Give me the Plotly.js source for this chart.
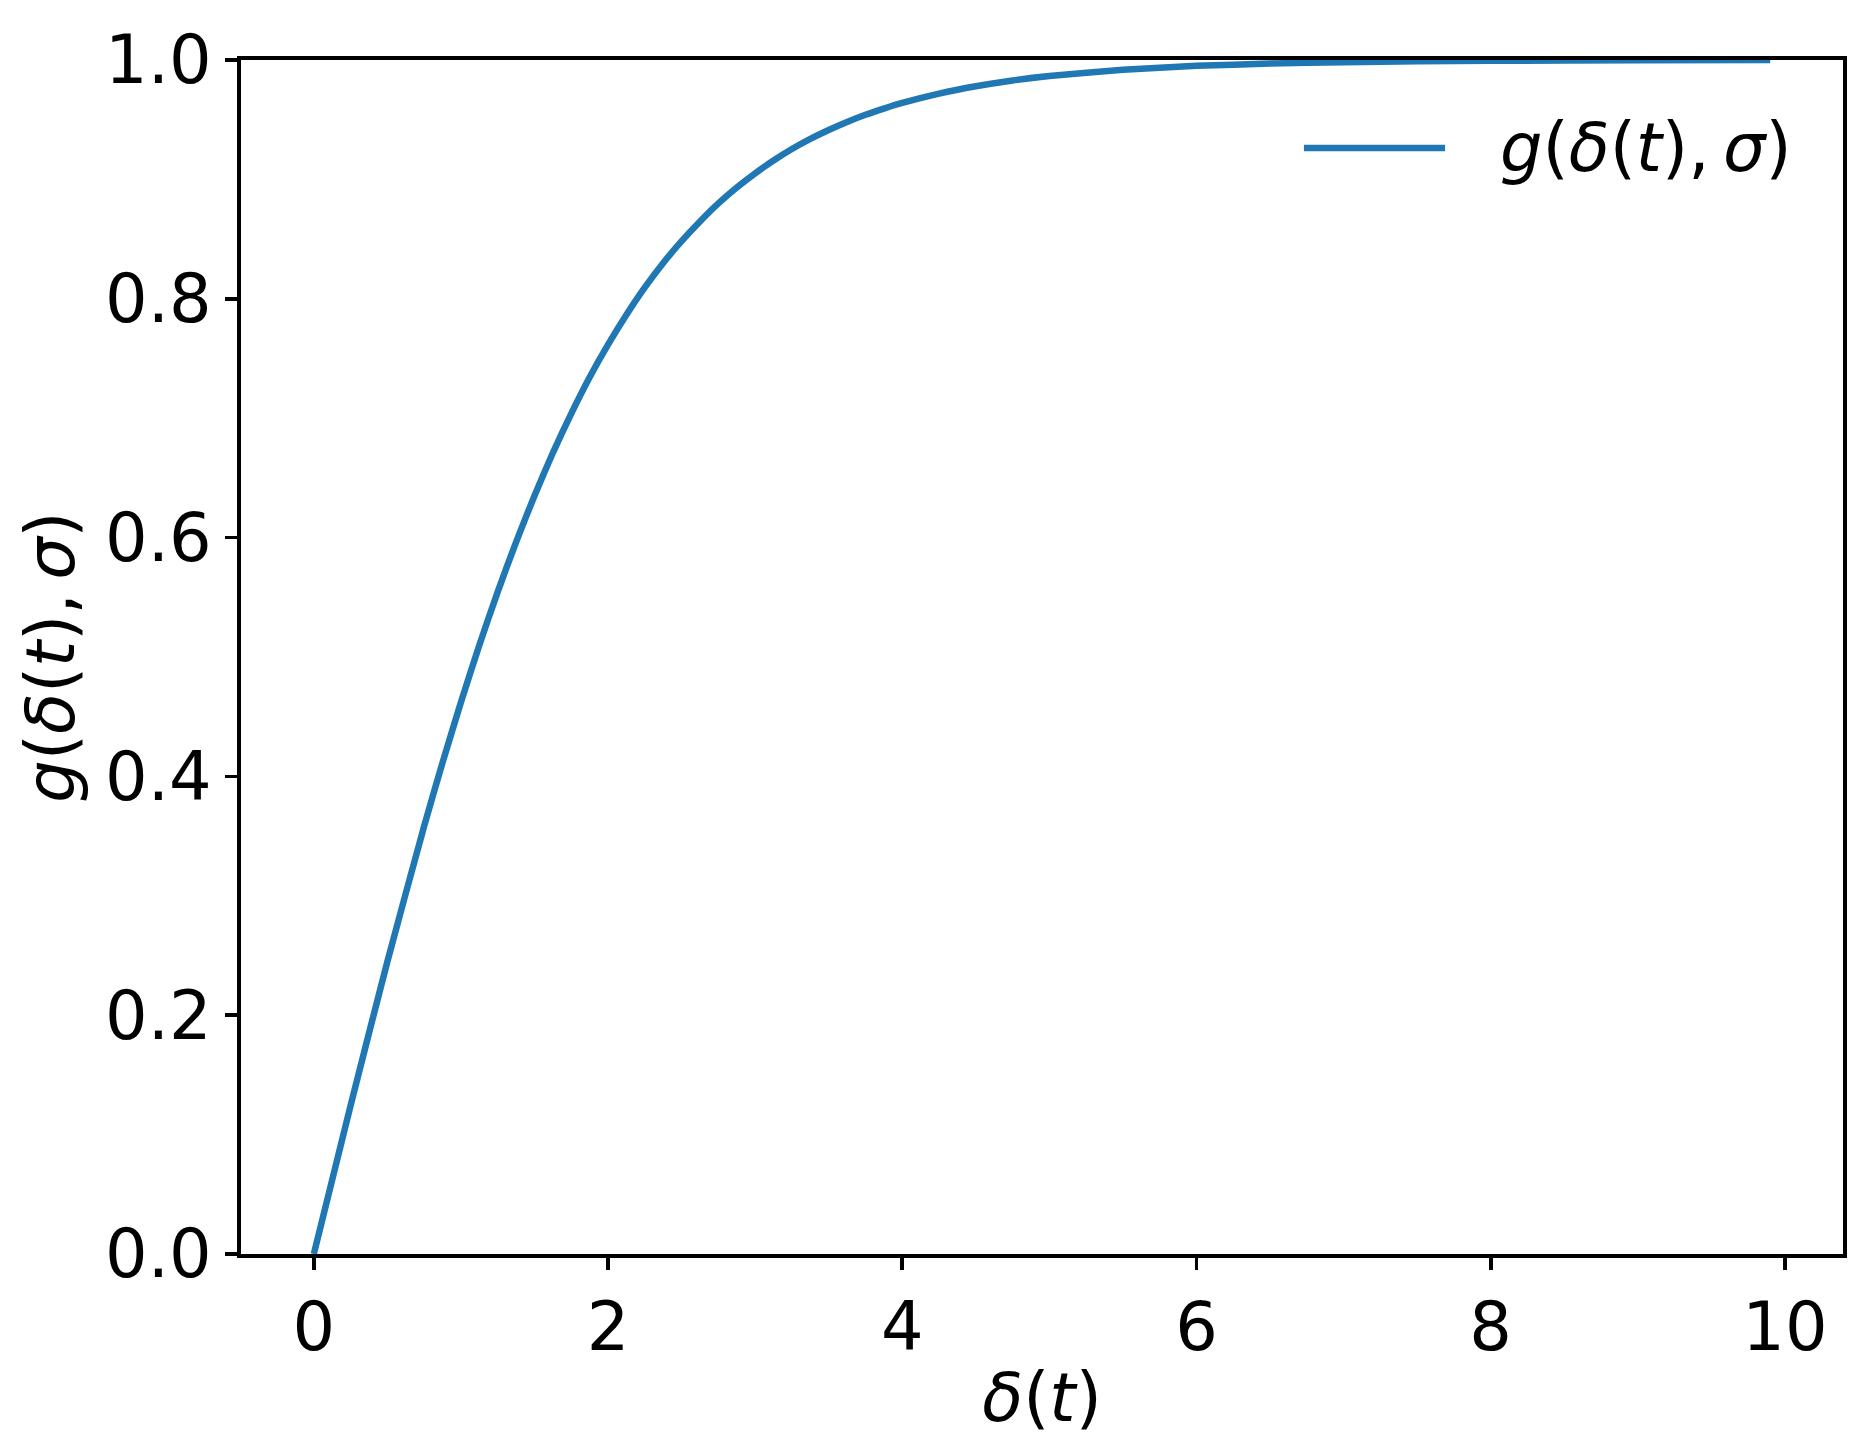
<!DOCTYPE html>
<html>
<head>
<meta charset="utf-8">
<script src="https://cdn.plot.ly/plotly-3.0.1.min.js"></script>
<style>
  html, body { margin: 0; padding: 0; background: #ffffff; }
  #chart { width: 1874px; height: 1441px; }
</style>
</head>
<body>
<div id="chart"></div>
<script>
// Values
const delta = [0, 0.25, 0.5, 0.75, 0.875, 1.0, 1.125, 1.25, 1.375, 1.5, 1.625, 1.75, 1.875, 2.0, 2.125, 2.25, 2.375, 2.5, 2.625, 2.75, 2.875, 3.0, 3.125, 3.25, 3.375, 3.5, 3.625, 3.75, 3.875, 4.0, 4.25, 4.5, 4.75, 5.0, 5.5, 6.0, 6.5, 7.0, 7.5, 8.0, 9.0, 9.9];
const gValues = [0, 0.1244, 0.2449, 0.3584, 0.4116, 0.4621, 0.5099, 0.5546, 0.5963, 0.6351, 0.6710, 0.7039, 0.7343, 0.7616, 0.7866, 0.8095, 0.8300, 0.8483, 0.8648, 0.8799, 0.8932, 0.9051, 0.9158, 0.9254, 0.9339, 0.9414, 0.9481, 0.9541, 0.9593, 0.9640, 0.9718, 0.9780, 0.9829, 0.9866, 0.9919, 0.9951, 0.9970, 0.9982, 0.9989, 0.9993, 0.9998, 0.9999];
const seriesName = '<i>g</i>(<i>δ</i>(<i>t</i>),\u2009<i>σ</i>)';
const xTitle = '<i>δ</i>(<i>t</i>)';
const yTitle = '<i>g</i>(<i>δ</i>(<i>t</i>),\u2009<i>σ</i>)';

const FONT = 'DejaVu Sans, Verdana, sans-serif';
const FS = 67;

const trace = {
  x: delta,
  y: gValues,
  type: 'scatter',
  mode: 'lines',
  name: seriesName,
  line: { color: '#1f77b4', width: 6.5, shape: 'spline', smoothing: 0.5 },
  showlegend: false
};

const layout = {
  width: 1874,
  height: 1441,
  margin: { l: 241, r: 31, t: 60, b: 187, pad: 0 },
  paper_bgcolor: '#ffffff',
  plot_bgcolor: '#ffffff',
  font: { family: FONT, size: FS, color: '#000000' },
  xaxis: {
    range: [-0.495, 10.395],
    tickmode: 'linear', tick0: 0, dtick: 2,
    ticks: 'outside', ticklen: 12, tickwidth: 3.7, tickcolor: '#000',
    showline: true, linecolor: '#000', linewidth: 4, mirror: true,
    showgrid: false, zeroline: false, tickangle: 0,
    tickfont: { family: FONT, size: FS, color: '#000' },
    title: { text: xTitle, font: { family: FONT, size: FS, color: '#000' }, standoff: 10 }
  },
  yaxis: {
    range: [0, 1],
    tickmode: 'linear', tick0: 0, dtick: 0.2, tickformat: '.1f',
    ticks: 'outside', ticklen: 12, tickwidth: 3.7, tickcolor: '#000',
    showline: true, linecolor: '#000', linewidth: 4, mirror: true,
    showgrid: false, zeroline: false,
    tickfont: { family: FONT, size: FS, color: '#000' },
    title: { text: yTitle, font: { family: FONT, size: FS, color: '#000' }, standoff: 10 }
  },
  shapes: [
    { type: 'line', xref: 'paper', yref: 'paper', x0: 0.6635, x1: 0.7516, y0: 0.9263, y1: 0.9263,
      line: { color: '#1f77b4', width: 6.5 } }
  ],
  annotations: [
    { xref: 'paper', yref: 'paper', x: 0.7846, y: 0.9263, xanchor: 'left', yanchor: 'middle',
      text: seriesName, showarrow: false, font: { family: FONT, size: FS, color: '#000' } }
  ]
};

Plotly.newPlot('chart', [trace], layout, { staticPlot: true, displayModeBar: false });
</script>
</body>
</html>
